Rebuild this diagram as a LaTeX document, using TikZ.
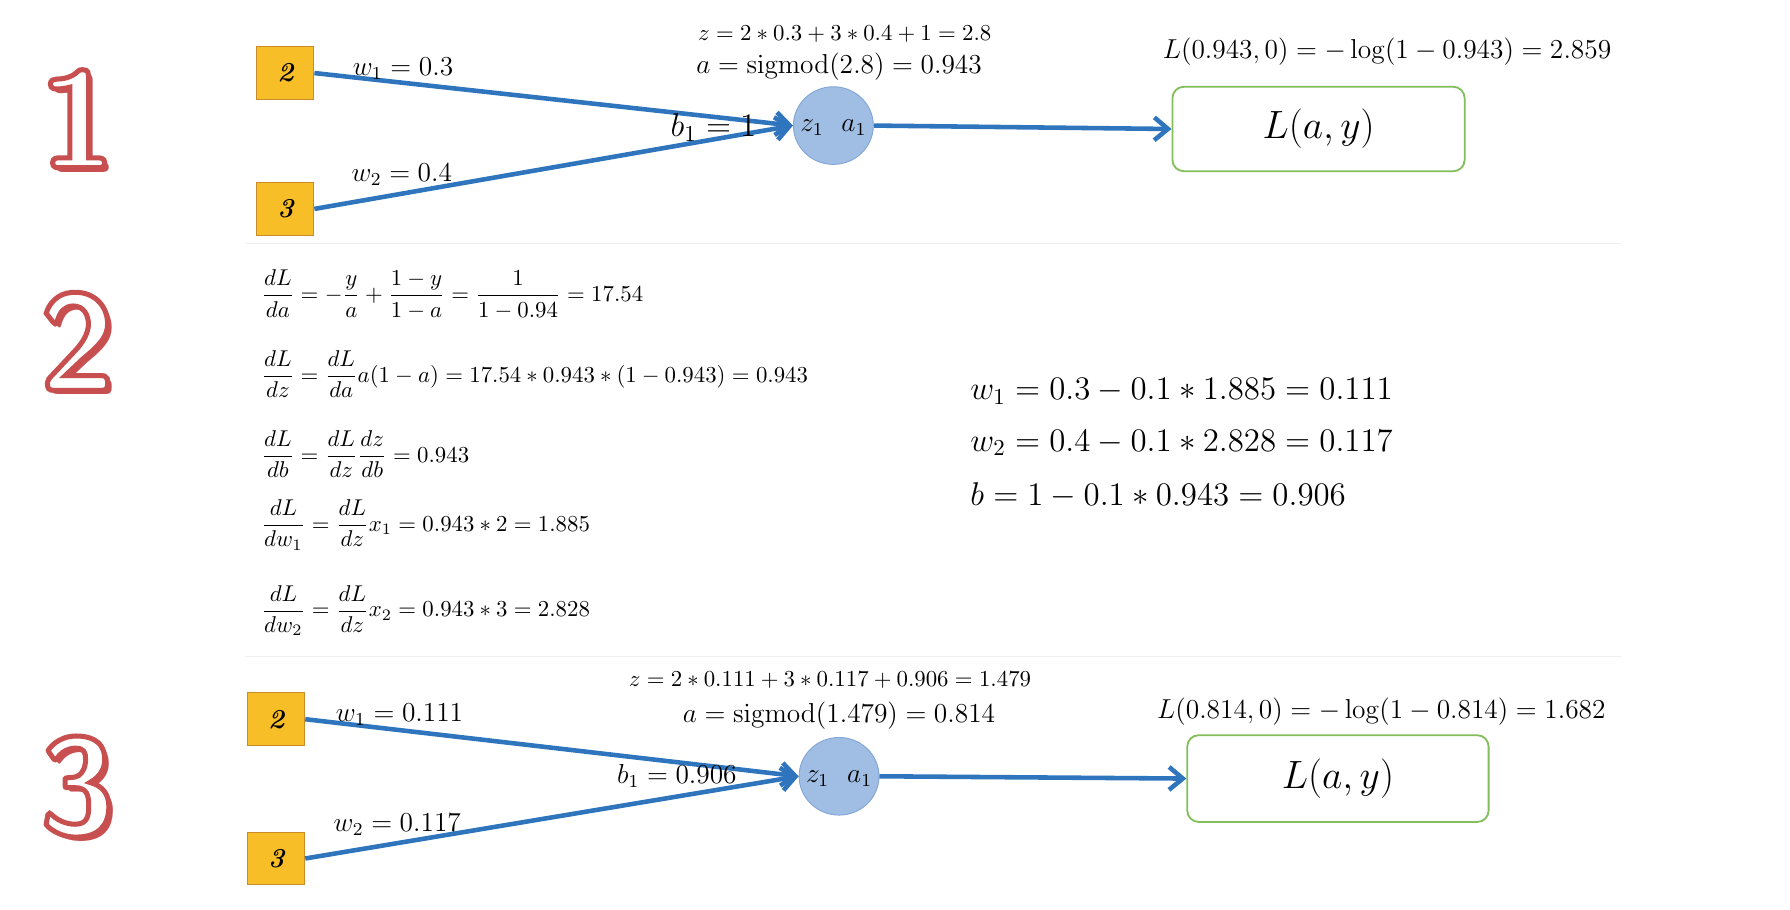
\documentclass[tikz,border=0pt]{standalone}
\usepackage{amsmath}
\usetikzlibrary{arrows.meta,shapes.geometric}
\definecolor{arblue}{RGB}{46,117,190}
\definecolor{boxy}{RGB}{248,190,40}
\definecolor{boxo}{RGB}{200,140,40}
\definecolor{circf}{RGB}{160,190,228}
\definecolor{circd}{RGB}{130,165,215}
\definecolor{lgreen}{RGB}{130,190,90}
\definecolor{numred}{RGB}{200,80,80}
\newcommand{\strokeon}{\special{pdf:literal direct 2 Tr 2.2 w 0.78 0.31 0.31 RG}}
\newcommand{\strokeoff}{\special{pdf:literal direct 0 Tr}}
\begin{document}
\begin{tikzpicture}[x=0.5pt,y=-0.5pt,
  inbox/.style={draw=boxo,fill=boxy,minimum width=25pt,minimum height=23pt,inner sep=0pt,font=\large\bfseries\itshape},
  neuron/.style={ellipse,draw=circd,fill=circf,minimum width=35pt,minimum height=34pt,inner sep=0pt},
  lossbox/.style={draw=lgreen,thick,rounded corners=5pt,fill=white,inner sep=0pt,font=\LARGE\itshape},
  conn/.style={draw=arblue,line width=2pt,-{Straight Barb[length=6pt,width=10pt]}},
  bignum/.style={font=\fontsize{60}{60}\selectfont\sffamily\bfseries},
  lab/.style={font=\large}]
\useasboundingbox (0,0) rectangle (1568,797);
\draw[black!6] (215,213) -- (1420,213);
\draw[black!6] (215,575) -- (1420,575);
% numerals
\node[bignum,text=numred] (s1n) at (72,108) {1};
\node[bignum,text=white] (n1) at (68,104) {\strokeon 1\strokeoff};
\node[bignum,text=numred] (s2n) at (72,303) {2};
\node[bignum,text=white] (n2) at (68,299) {\strokeon 2\strokeoff};
\node[bignum,text=numred] (s3n) at (72,693) {3};
\node[bignum,text=white] (n3) at (68,689) {\strokeon 3\strokeoff};
% panel 1
\node[inbox] (a2) at (250,64) {2};
\node[inbox] (a3) at (250,183) {3};
\node[neuron] (c1) at (730,110) {};
\node[font=\large] (c1t) at (730,112) {$z_1\ \ a_1$};
\node[lossbox,minimum width=128pt,minimum height=37pt] (l1) at (1155,113) {$L(a,y)$};
\draw[conn] (a2.east) -- (c1.west);
\draw[conn] (a3.east) -- (c1.west);
\draw[conn] (c1.east) -- (l1.west);
\node[lab] (w11) at (353,60) {$w_1=0.3$};
\node[lab] (w12) at (352,153) {$w_2=0.4$};
\node[font=\Large] (b11) at (625,112) {$b_1=1$};
\node[font=\normalsize] (z1) at (740,30) {$z=2*0.3+3*0.4+1=2.8$};
\node[lab] (s1) at (735,58) {$a=\mathrm{sigmod}(2.8)=0.943$};
\node[font=\large] (ll1) at (1215,45) {$L(0.943,0)=-\log(1-0.943)=2.859$};
% panel 2
\node[anchor=west] (d1) at (222,258) {$\dfrac{dL}{da}=-\dfrac{y}{a}+\dfrac{1-y}{1-a}=\dfrac{1}{1-0.94}=17.54$};
\node[anchor=west] (d2) at (222,328) {$\dfrac{dL}{dz}=\dfrac{dL}{da}a(1-a)=17.54*0.943*(1-0.943)=0.943$};
\node[anchor=west] (d3) at (222,398) {$\dfrac{dL}{db}=\dfrac{dL}{dz}\dfrac{dz}{db}=0.943$};
\node[anchor=west] (d4) at (222,460) {$\dfrac{dL}{dw_1}=\dfrac{dL}{dz}x_1=0.943*2=1.885$};
\node[anchor=west] (d5) at (222,535) {$\dfrac{dL}{dw_2}=\dfrac{dL}{dz}x_2=0.943*3=2.828$};
\node[anchor=west,font=\Large] (u1) at (843,343) {$w_1=0.3-0.1*1.885=0.111$};
\node[anchor=west,font=\Large] (u2) at (843,388) {$w_2=0.4-0.1*2.828=0.117$};
\node[anchor=west,font=\Large] (u3) at (843,434) {$b=1-0.1*0.943=0.906$};
% panel 3
\node[inbox] (e2) at (242,630) {2};
\node[inbox] (e3) at (242,752) {3};
\node[neuron] (c3) at (735,680) {};
\node[font=\large] (c3t) at (735,682) {$z_1\ \ a_1$};
\node[lossbox,minimum width=132pt,minimum height=38pt] (l3) at (1172,682) {$L(a,y)$};
\draw[conn] (e2.east) -- (c3.west);
\draw[conn] (e3.east) -- (c3.west);
\draw[conn] (c3.east) -- (l3.west);
\node[lab] (w31) at (350,626) {$w_1=0.111$};
\node[lab] (w32) at (348,722) {$w_2=0.117$};
\node[lab] (b31) at (593,680) {$b_1=0.906$};
\node[font=\normalsize] (z3) at (727,596) {$z=2*0.111+3*0.117+0.906=1.479$};
\node[lab] (s3) at (735,627) {$a=\mathrm{sigmod}(1.479)=0.814$};
\node[font=\large] (ll3) at (1210,623) {$L(0.814,0)=-\log(1-0.814)=1.682$};
\end{tikzpicture}
\end{document}
